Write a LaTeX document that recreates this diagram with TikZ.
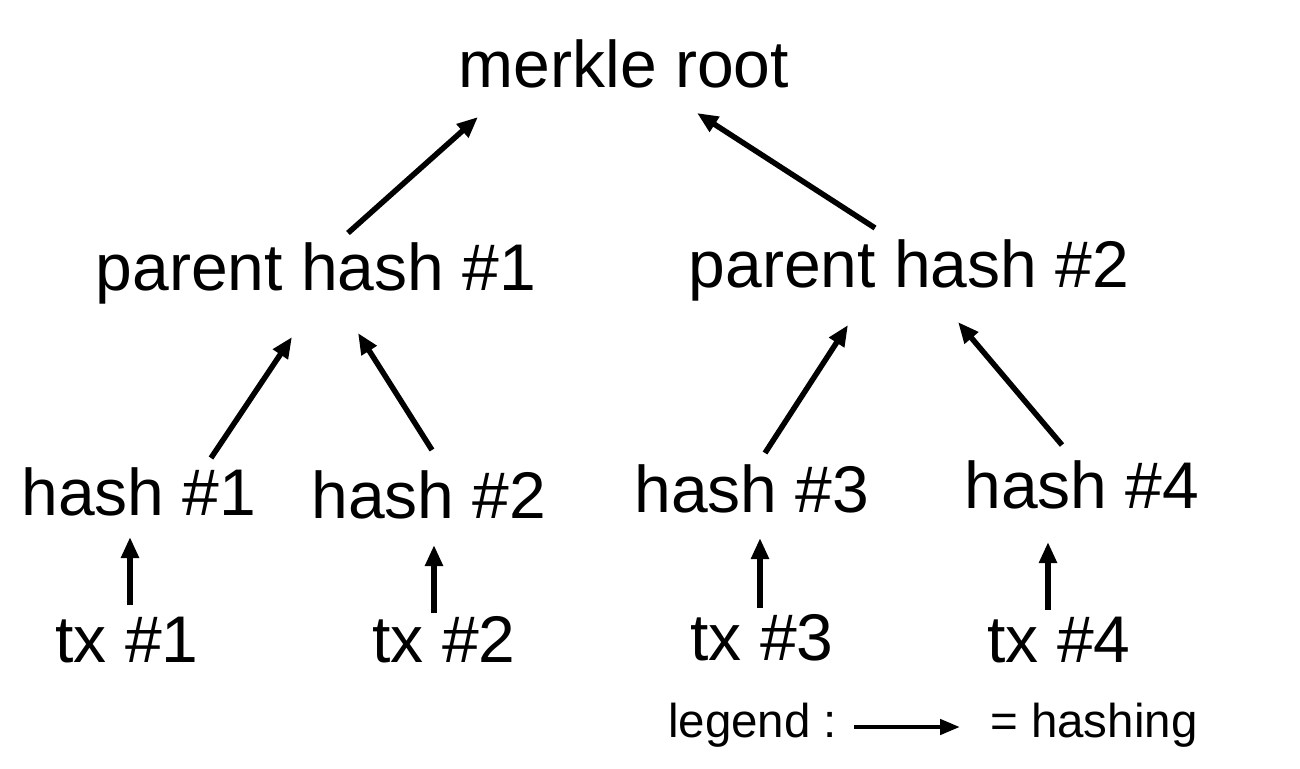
\documentclass[tikz,border=0pt]{standalone}
\usepackage{fontspec}
\setmainfont{Liberation Sans}
\usetikzlibrary{arrows.meta}
\tikzset{
  lbl/.style={inner sep=0pt, anchor=base, font=\fontsize{66}{66}\selectfont},
  leglbl/.style={inner sep=0pt, anchor=base west, font=\fontsize{47.5}{47.5}\selectfont},
  arr/.style={line width=5.5pt, -{Triangle[length=21pt,width=17pt]}},
  legarr/.style={line width=4.5pt, -{Triangle[length=20pt,width=15pt]}}
}
\begin{document}
\begin{tikzpicture}[x=1pt,y=-1pt]
\useasboundingbox[fill=white] (0,0) rectangle (1300,768);
\node[lbl] (root) at (624,88) {merkle root};
\node[lbl] (p1) at (316,290) {parent hash \#1};
\node[lbl] (p2) at (909,287) {parent hash \#2};
\node[lbl] (h1) at (139,515) {hash \#1};
\node[lbl] (h2) at (429,518) {hash \#2};
\node[lbl] (h3) at (752,512) {hash \#3};
\node[lbl] (h4) at (1082,508) {hash \#4};
\node[lbl] (t1) at (127,662) {tx \#1};
\node[lbl] (t2) at (444,662) {tx \#2};
\node[lbl] (t3) at (762,660) {tx \#3};
\node[lbl] (t4) at (1059,662) {tx \#4};
\node[leglbl] (leg) at (668,737) {legend :};
\node[leglbl] (hs) at (990,737) {= hashing};
% connectors
\draw[arr] ([shift={(72,-57)}]h1.base) -- ([shift={(-24,47)}]p1.base);
\draw[arr] ([shift={(3,-68)}]h2.base) -- ([shift={(42,43)}]p1.base);
\draw[arr] ([shift={(13,-59)}]h3.base) -- ([shift={(-61,38)}]p2.base);
\draw[arr] ([shift={(-20,-63)}]h4.base) -- ([shift={(49,35)}]p2.base);
\draw[arr] ([shift={(32,-57)}]p1.base) -- ([shift={(-146,29)}]root.base);
\draw[arr] ([shift={(-34,-59)}]p2.base) -- ([shift={(73,25)}]root.base);
\draw[arr] ([shift={(3,-57)}]t1.base) -- ([shift={(-9,22)}]h1.base);
\draw[arr] ([shift={(-10,-49)}]t2.base) -- ([shift={(5,27)}]h2.base);
\draw[arr] ([shift={(-2,-52)}]t3.base) -- ([shift={(8,26)}]h3.base);
\draw[arr] ([shift={(-11,-52)}]t4.base) -- ([shift={(-34,34)}]h4.base);
\draw[legarr] ([shift={(17,-10)}]leg.base east) -- ([shift={(-30,-10)}]hs.base west);
\end{tikzpicture}
\end{document}
